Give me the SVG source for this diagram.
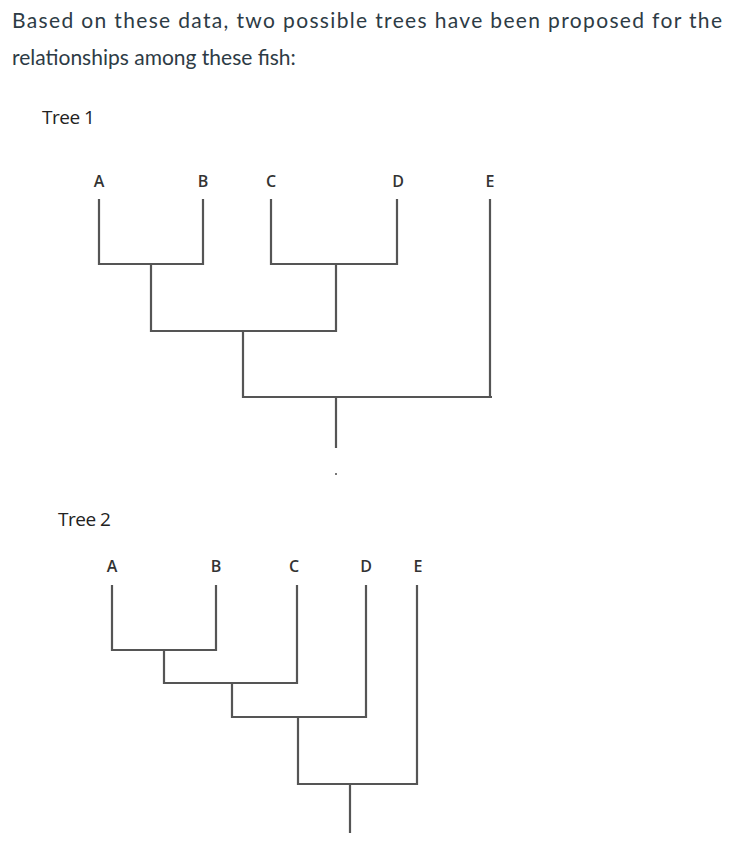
<svg xmlns="http://www.w3.org/2000/svg" width="738" height="853" viewBox="0 0 738 853">
<style>
.h{font-family:Lato,"Open Sans",sans-serif;font-size:21px;fill:#2d3b45}
.t{font-family:"Open Sans",sans-serif;font-size:19px;fill:#222;letter-spacing:-0.5px}
.l{font-family:"Open Sans",sans-serif;font-size:16px;font-weight:600;fill:#333;text-anchor:middle}
.c{fill:none;stroke:#555;stroke-width:2.2}
</style>
<rect width="738" height="853" fill="#fff"/>
<text class="h" x="12" y="28" textLength="710">Based on these data, two possible trees have been proposed for the</text>
<text class="h" x="12" y="65">relationships among these fish:</text>
<g id="tree1">
<text class="t" x="42" y="124">Tree 1</text>
<g id="t1-A"><text class="l" x="99" y="187">A</text></g>
<g id="t1-B"><text class="l" x="203" y="187">B</text></g>
<g id="t1-C"><text class="l" x="271" y="187">C</text></g>
<g id="t1-D"><text class="l" x="398" y="187">D</text></g>
<g id="t1-E"><text class="l" x="490" y="187">E</text></g>
<g id="t1-connectors">
<path class="c" d="M99 199V264H203V199M271 199V264H397V199M151 264V331H336V264M243 331V397H492M490 199V397M336 397V448"/>
<rect x="335" y="473" width="2" height="2" fill="#777"/>
</g>
</g>
<g id="tree2">
<text class="t" x="58" y="526">Tree 2</text>
<g id="t2-A"><text class="l" x="112" y="572">A</text></g>
<g id="t2-B"><text class="l" x="216" y="572">B</text></g>
<g id="t2-C"><text class="l" x="294" y="572">C</text></g>
<g id="t2-D"><text class="l" x="366" y="572">D</text></g>
<g id="t2-E"><text class="l" x="418" y="572">E</text></g>
<g id="t2-connectors">
<path class="c" d="M112 585V650H216V585M164 650V683H297V585M232 683V717H366V585M298 717V784H417V585M350 784V833"/>
</g>
</g>
</svg>
